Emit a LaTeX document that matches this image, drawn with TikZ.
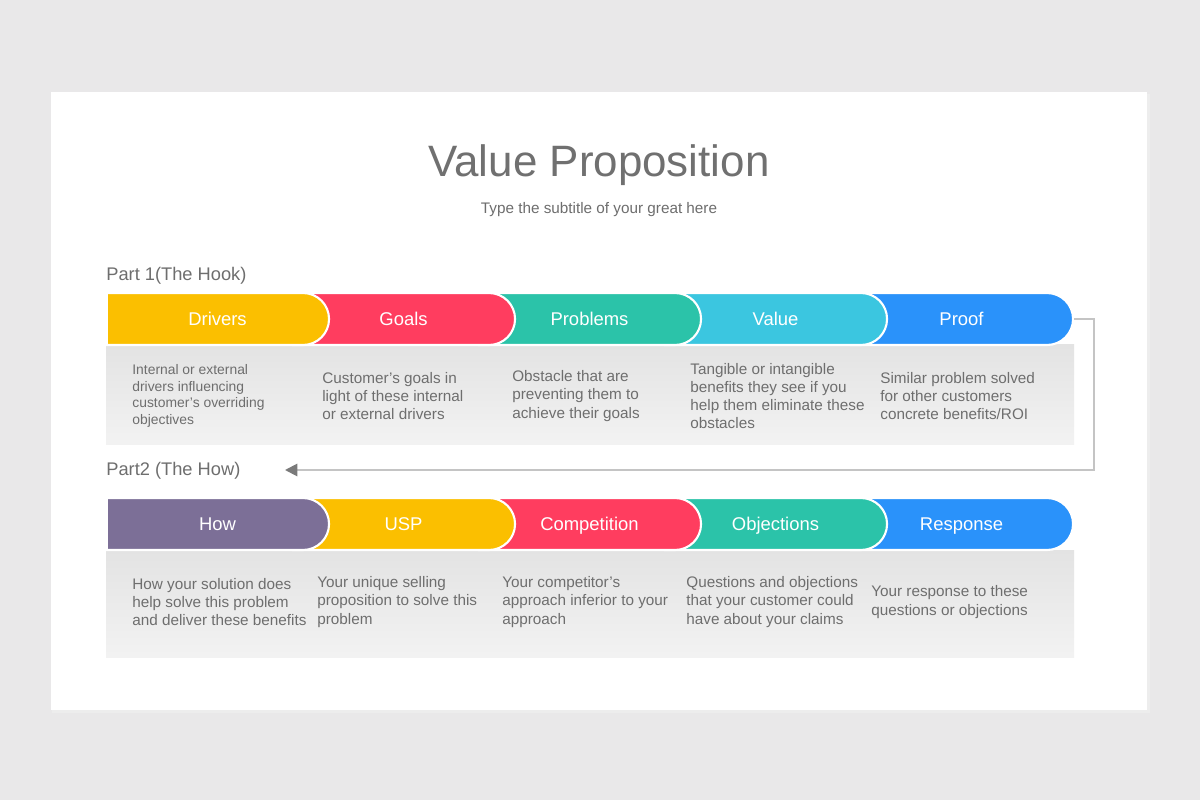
\documentclass[tikz,border=0pt]{standalone}
\usepackage{fontspec}
\setmainfont{Liberation Sans}
\usepackage{tikz}
\usetikzlibrary{positioning, shapes.misc, arrows.meta}

\definecolor{pagegray}{HTML}{E9E8E9}
\definecolor{textgray}{HTML}{6E6E6E}
\definecolor{titlegray}{HTML}{707070}
\definecolor{linegray}{HTML}{C4C4C4}
\definecolor{tipgray}{HTML}{7A7A7A}
\definecolor{cyellow}{HTML}{FBBF00}
\definecolor{cred}{HTML}{FF3D5F}
\definecolor{cteal}{HTML}{2BC3A9}
\definecolor{ccyan}{HTML}{3BC6E0}
\definecolor{cblue}{HTML}{2A92FA}
\definecolor{cpurple}{HTML}{7C6F97}

\tikzstyle{tab} = [rounded rectangle, rounded rectangle left arc=none, minimum width=4.68cm, minimum height=1.04cm, text height=7.6pt, text depth=0pt, draw=white, line width=1.2pt, text=white, font=\fontsize{10.5}{12}\selectfont]
\tikzstyle{desc} = [anchor=west, align=left, inner sep=0pt, text=textgray, font=\fontsize{8.7}{10.3}\selectfont]
\tikzstyle{smalldesc} = [desc, font=\fontsize{7.9}{9.35}\selectfont]
\tikzstyle{part} = [anchor=west, inner sep=0pt, text=textgray, font=\fontsize{10.4}{12}\selectfont]
\tikzstyle{panel} = [top color=black!11, bottom color=black!5]
\tikzstyle{arrow} = [draw=linegray, line width=1.1pt, -{Triangle[length=7pt, width=7pt, color=tipgray]}]

\begin{document}
\begin{tikzpicture}[x=0.02cm, y=-0.02cm]
			
			\useasboundingbox (0,0) rectangle (1200,800);
			\fill[pagegray] (0,0) rectangle (1200,800);
			\fill[black!7] (52,94) rectangle (1150,713); % card shadow
			\fill[white] (51,92) rectangle (1147,710);
			
			\node (title) [text=titlegray, font=\fontsize{25}{30}\selectfont] at (599,165) {Value Proposition};
			\node (subtitle) [text=textgray, font=\fontsize{8.7}{10}\selectfont] at (599,210) {Type the subtitle of your great here};
			
			% Part 1
			\node (hook) [part] at (106,276) {Part 1(The Hook)};
			\fill[panel] (106,345) rectangle (1074,444);
			\node (proof) [tab, fill=cblue] at (961.5,319) {Proof};
			\node (value) [tab, fill=ccyan] at (775.5,319) {Value};
			\node (problems) [tab, fill=cteal] at (589.5,319) {Problems};
			\node (goals) [tab, fill=cred] at (403.5,319) {Goals};
			\node (drivers) [tab, fill=cyellow] at (217.5,319) {Drivers};
			
			\node (driverstext) [smalldesc] at (132,396) {Internal or external\\drivers influencing\\customer's overriding\\objectives};
			\node (goalstext) [desc] at (322,396) {Customer's goals in\\light of these internal\\or external drivers};
			\node (problemstext) [desc] at (512,396) {Obstacle that are\\preventing them to\\achieve their goals};
			\node (valuetext) [desc] at (690,396) {Tangible or intangible\\benefits they see if you\\help them eliminate these\\obstacles};
			\node (prooftext) [desc] at (880,396) {Similar problem solved\\for other customers\\concrete benefits/ROI};
			
			% Part 2
			\node (how) [part] at (106,471) {Part2 (The How)};
			\coordinate (howarrow) at (285,470);
			\draw [arrow] (proof.east) -- ++(20,0) |- (howarrow);
			
			\fill[panel] (106,550) rectangle (1074,657);
			\node (response) [tab, fill=cblue] at (961.5,524) {Response};
			\node (objections) [tab, fill=cteal] at (775.5,524) {Objections};
			\node (competition) [tab, fill=cred] at (589.5,524) {Competition};
			\node (usp) [tab, fill=cyellow] at (403.5,524) {USP};
			\node (howtab) [tab, fill=cpurple] at (217.5,524) {How};
			
			\node (howtext) [desc] at (132,602) {How your solution does\\help solve this problem\\and deliver these benefits};
			\node (usptext) [desc] at (317,602) {Your unique selling\\proposition to solve this\\problem};
			\node (competitiontext) [desc] at (502,602) {Your competitor's\\approach inferior to your\\approach};
			\node (objectionstext) [desc] at (686,602) {Questions and objections\\that your customer could\\have about your claims};
			\node (responsetext) [desc] at (871,602) {Your response to these\\questions or objections};
			
		\end{tikzpicture}
\end{document}
